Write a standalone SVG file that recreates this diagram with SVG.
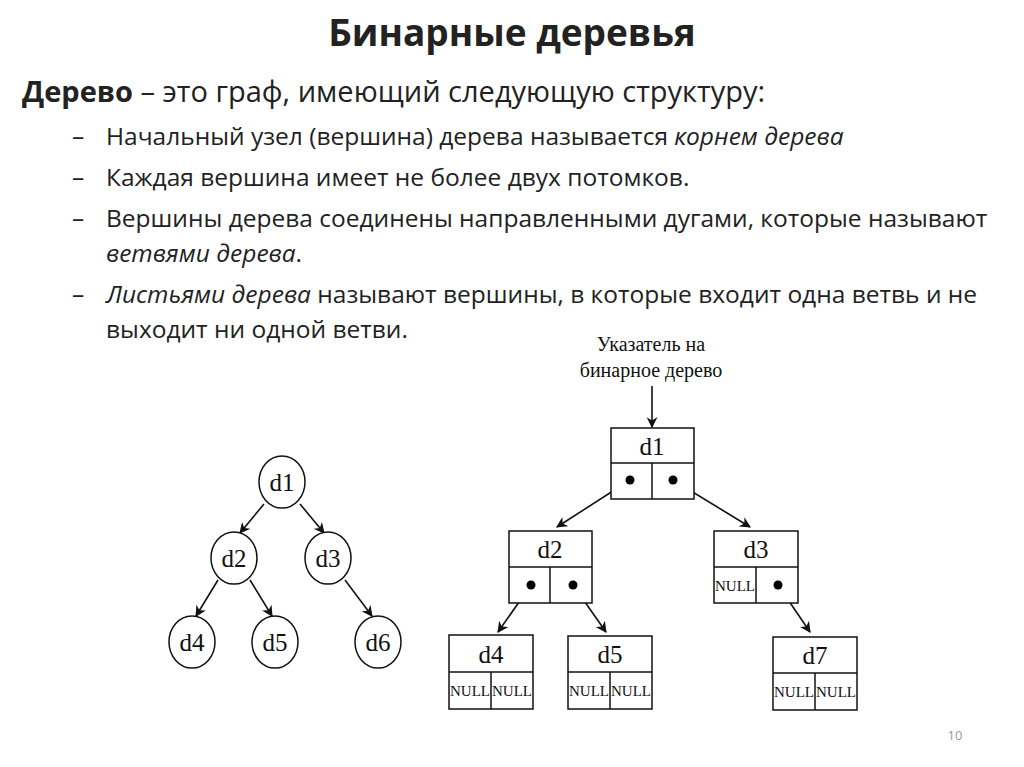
<svg xmlns="http://www.w3.org/2000/svg" width="1024" height="767" viewBox="0 0 1024 767">
<defs>
<style>
.t{font-family:"Open Sans","Liberation Sans",sans-serif;fill:#222}
.s{font-family:"Liberation Serif",serif;fill:#111}
.b{fill:#fff;stroke:#111;stroke-width:1.5}
.c{stroke:#111;stroke-width:1.6;fill:none;marker-end:url(#a)}
.n{font-family:"Liberation Serif",serif;fill:#111;font-size:14px}
</style>
<marker id="a" viewBox="0 0 10 10" refX="9" refY="5" markerWidth="11" markerHeight="11" orient="auto" markerUnits="userSpaceOnUse"><path d="M0,0 L10,5 L0,10 L3,5 Z" fill="#111"/></marker>
</defs>
<rect width="1024" height="767" fill="#fff"/>
<text class="t" x="512" y="46" font-size="37" font-weight="bold" text-anchor="middle">Бинарные деревья</text>
<text class="t" x="22" y="102" font-size="29"><tspan font-weight="bold">Дерево</tspan> – это граф, имеющий следующую структуру:</text>
<g font-size="24.5" class="t">
<text class="t" x="72" y="145">–</text><text class="t" x="106" y="145">Начальный узел (вершина) дерева называется <tspan font-style="italic">корнем дерева</tspan></text>
<text class="t" x="72" y="186">–</text><text class="t" x="106" y="186">Каждая вершина имеет не более двух потомков.</text>
<text class="t" x="72" y="227">–</text><text class="t" x="106" y="227">Вершины дерева соединены направленными дугами, которые называют</text>
<text class="t" x="106" y="262"><tspan font-style="italic">ветвями дерева</tspan>.</text>
<text class="t" x="72" y="303">–</text><text class="t" x="106" y="303"><tspan font-style="italic">Листьями дерева</tspan> называют вершины, в которые входит одна ветвь и не</text>
<text class="t" x="106" y="338">выходит ни одной ветви.</text>
</g>
<g id="connectors">
<line class="c" x1="264" y1="504" x2="240" y2="533"/>
<line class="c" x1="300" y1="504" x2="324" y2="533"/>
<line class="c" x1="218" y1="580" x2="196" y2="616"/>
<line class="c" x1="250" y1="580" x2="272" y2="616"/>
<line class="c" x1="345" y1="580" x2="372" y2="616"/>
<line class="c" x1="652" y1="386" x2="652" y2="427"/>
<line class="c" x1="630" y1="480" x2="557" y2="527"/>
<line class="c" x1="673" y1="480" x2="750" y2="527"/>
<line class="c" x1="531" y1="585" x2="498" y2="632"/>
<line class="c" x1="573" y1="585" x2="606" y2="632"/>
<line class="c" x1="778" y1="585" x2="810" y2="632"/>
</g>
<g id="cd1"><ellipse class="b" cx="282" cy="482" rx="23" ry="26"/><text class="s" x="282" y="491" font-size="25" text-anchor="middle">d1</text></g>
<g id="cd2"><ellipse class="b" cx="234" cy="558" rx="23" ry="26"/><text class="s" x="234" y="567" font-size="25" text-anchor="middle">d2</text></g>
<g id="cd3"><ellipse class="b" cx="328" cy="558" rx="23" ry="26"/><text class="s" x="328" y="567" font-size="25" text-anchor="middle">d3</text></g>
<g id="cd4"><ellipse class="b" cx="192" cy="642" rx="23" ry="26"/><text class="s" x="192" y="651" font-size="25" text-anchor="middle">d4</text></g>
<g id="cd5"><ellipse class="b" cx="275" cy="642" rx="23" ry="26"/><text class="s" x="275" y="651" font-size="25" text-anchor="middle">d5</text></g>
<g id="cd6"><ellipse class="b" cx="378" cy="642" rx="23" ry="26"/><text class="s" x="378" y="651" font-size="25" text-anchor="middle">d6</text></g>
<g id="pointer"><text class="s" x="651" y="351" font-size="20" text-anchor="middle">Указатель на</text><text class="s" x="651" y="377" font-size="20" text-anchor="middle">бинарное дерево</text></g>
<g id="bd1"><rect class="b" x="611" y="428" width="83" height="71"/><line class="b" x1="611" y1="463" x2="694" y2="463"/><line class="b" x1="652" y1="463" x2="652" y2="499"/><text class="s" x="652" y="455" font-size="25" text-anchor="middle">d1</text><circle cx="630" cy="480" r="4.5"/><circle cx="673" cy="480" r="4.5"/></g>
<g id="bd2"><rect class="b" x="509" y="531" width="83" height="72"/><line class="b" x1="509" y1="567" x2="592" y2="567"/><line class="b" x1="550" y1="567" x2="550" y2="603"/><text class="s" x="550" y="558" font-size="25" text-anchor="middle">d2</text><circle cx="531" cy="585" r="4.5"/><circle cx="573" cy="585" r="4.5"/></g>
<g id="bd3"><rect class="b" x="714" y="531" width="84" height="72"/><line class="b" x1="714" y1="567" x2="798" y2="567"/><line class="b" x1="756" y1="567" x2="756" y2="603"/><text class="s" x="756" y="558" font-size="25" text-anchor="middle">d3</text><text class="n" x="715" y="591" textLength="40" lengthAdjust="spacingAndGlyphs">NULL</text><circle cx="778" cy="585" r="4.5"/></g>
<g id="bd4"><rect class="b" x="449" y="635" width="84" height="74"/><line class="b" x1="449" y1="672" x2="533" y2="672"/><line class="b" x1="491" y1="672" x2="491" y2="709"/><text class="s" x="491" y="663" font-size="25" text-anchor="middle">d4</text><text class="n" x="450" y="696" textLength="40" lengthAdjust="spacingAndGlyphs">NULL</text><text class="n" x="492" y="696" textLength="40" lengthAdjust="spacingAndGlyphs">NULL</text></g>
<g id="bd5"><rect class="b" x="568" y="636" width="84" height="73"/><line class="b" x1="568" y1="672" x2="652" y2="672"/><line class="b" x1="610" y1="672" x2="610" y2="709"/><text class="s" x="610" y="663" font-size="25" text-anchor="middle">d5</text><text class="n" x="569" y="696" textLength="40" lengthAdjust="spacingAndGlyphs">NULL</text><text class="n" x="611" y="696" textLength="40" lengthAdjust="spacingAndGlyphs">NULL</text></g>
<g id="bd7"><rect class="b" x="773" y="637" width="84" height="73"/><line class="b" x1="773" y1="673" x2="857" y2="673"/><line class="b" x1="815" y1="673" x2="815" y2="710"/><text class="s" x="815" y="664" font-size="25" text-anchor="middle">d7</text><text class="n" x="774" y="697" textLength="40" lengthAdjust="spacingAndGlyphs">NULL</text><text class="n" x="816" y="697" textLength="40" lengthAdjust="spacingAndGlyphs">NULL</text></g>
<text x="955" y="740" font-size="13" fill="#999" font-family="Open Sans,sans-serif" text-anchor="middle">10</text>
</svg>
